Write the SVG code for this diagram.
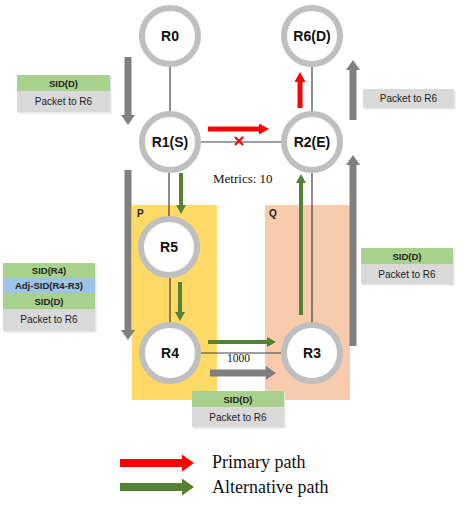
<svg xmlns="http://www.w3.org/2000/svg" width="474" height="505" viewBox="0 0 474 505">
<style>
.node circle{fill:#fff;stroke:#bfbfbf;stroke-width:6}
.node text{font-family:"Liberation Sans",Arial,sans-serif;font-weight:bold;font-size:14px;fill:#111;text-anchor:middle}
.link{stroke:#404040;stroke-width:1.2;fill:none}
.ga{stroke:#7f7f7f;stroke-width:7;fill:none}
.gr{stroke:#548235;stroke-width:4;fill:none}
.rd{stroke:#ff0000;stroke-width:5;fill:none}
.bx{font-family:"Liberation Sans",Arial,sans-serif;font-size:10px;fill:#222;text-anchor:middle}
.bb{font-weight:bold;font-size:9.5px}
.g{fill:#a9d18e}.s{fill:#d9d9d9}.b{fill:#9dc3e6}.sh{fill:#e6e6e6}
.serif{font-family:"Liberation Serif","Times New Roman",serif;fill:#111}
.lbl{font-family:"Liberation Sans",Arial,sans-serif;font-weight:bold;font-size:10px;fill:#222}
</style>
<defs>
<marker id="mg" markerUnits="userSpaceOnUse" viewBox="0 0 10 14" markerWidth="10" markerHeight="14" refX="0" refY="7" orient="auto"><path d="M0,0 L10,7 L0,14 z" fill="#7f7f7f"/></marker>
<marker id="mgr" markerUnits="userSpaceOnUse" viewBox="0 0 9 10" markerWidth="9" markerHeight="10" refX="0" refY="5" orient="auto"><path d="M0,0 L9,5 L0,10 z" fill="#548235"/></marker>
<marker id="mr" markerUnits="userSpaceOnUse" viewBox="0 0 10 11" markerWidth="10" markerHeight="11" refX="0" refY="5.5" orient="auto"><path d="M0,0 L10,5.5 L0,11 z" fill="#ff0000"/></marker>
<marker id="mlr" markerUnits="userSpaceOnUse" viewBox="0 0 12 17" markerWidth="12" markerHeight="17" refX="0" refY="8.5" orient="auto"><path d="M0,0 L12,8.5 L0,17 z" fill="#ff0000"/></marker>
<marker id="mlg" markerUnits="userSpaceOnUse" viewBox="0 0 12 17" markerWidth="12" markerHeight="17" refX="0" refY="8.5" orient="auto"><path d="M0,0 L12,8.5 L0,17 z" fill="#548235"/></marker>
</defs>
<rect width="474" height="505" fill="#fff"/>
<g id="areas">
<rect x="132" y="205" width="85" height="195" fill="#ffd966"/>
<text class="lbl" x="137" y="217">P</text>
<rect x="265" y="205" width="85" height="195" fill="#f8cbad"/>
<text class="lbl" x="269" y="217">Q</text>
</g>
<g id="connectors">
<line class="link" x1="170" y1="67" x2="170" y2="112"/>
<line class="link" x1="312" y1="67" x2="312" y2="112"/>
<line class="link" x1="201" y1="142" x2="281" y2="142"/>
<line class="link" x1="169" y1="173" x2="169" y2="217"/>
<line class="link" x1="170" y1="278" x2="170" y2="323"/>
<line class="link" x1="312" y1="173" x2="312" y2="323"/>
<line class="link" x1="201" y1="353" x2="281" y2="353"/>
<line class="ga" x1="128" y1="57" x2="128" y2="115" marker-end="url(#mg)"/>
<line class="ga" x1="128" y1="170" x2="128" y2="330" marker-end="url(#mg)"/>
<line class="ga" x1="353" y1="120" x2="353" y2="70" marker-end="url(#mg)"/>
<line class="ga" x1="353" y1="346" x2="353" y2="165" marker-end="url(#mg)"/>
<line class="ga" x1="210" y1="373" x2="266" y2="373" marker-end="url(#mg)"/>
<line class="gr" x1="181" y1="173" x2="181" y2="205" marker-end="url(#mgr)"/>
<line class="gr" x1="180" y1="282" x2="180" y2="312" marker-end="url(#mgr)"/>
<line class="gr" x1="208" y1="342" x2="267" y2="342" marker-end="url(#mgr)"/>
<line class="gr" x1="301" y1="315" x2="301" y2="183" marker-end="url(#mgr)"/>
<line class="rd" x1="300" y1="108" x2="300" y2="82" marker-end="url(#mr)"/>
<line class="rd" x1="208" y1="129" x2="259" y2="129" marker-end="url(#mr)"/>
<path d="M235,137 L243,145 M243,137 L235,145" stroke="#ff0000" stroke-width="2.2" fill="none"/>
</g>
<g id="R0" class="node"><circle cx="170" cy="36" r="28"/><text x="170" y="41">R0</text></g>
<g id="R6" class="node"><circle cx="312" cy="36" r="28"/><text x="312" y="41">R6(D)</text></g>
<g id="R1" class="node"><circle cx="170" cy="142" r="28"/><text x="170" y="147">R1(S)</text></g>
<g id="R2" class="node"><circle cx="312" cy="142" r="28"/><text x="312" y="147">R2(E)</text></g>
<g id="R5" class="node"><circle cx="169" cy="247" r="28"/><text x="169" y="252">R5</text></g>
<g id="R4" class="node"><circle cx="170" cy="353" r="28"/><text x="170" y="358">R4</text></g>
<g id="R3" class="node"><circle cx="312" cy="353" r="28"/><text x="312" y="358">R3</text></g>
<g id="box-left-top">
<rect class="sh" x="18.5" y="76.5" width="93" height="37"/>
<rect class="g" x="17" y="75" width="93" height="16"/>
<rect class="s" x="17" y="91" width="93" height="21"/>
<text class="bx bb" x="63.5" y="86.5">SID(D)</text>
<text class="bx" x="63.5" y="105">Packet to R6</text>
</g>
<g id="box-right-top">
<rect class="sh" x="364.5" y="90.5" width="91" height="19"/>
<rect class="s" x="363" y="89" width="91" height="19"/>
<text class="bx" x="408.5" y="102">Packet to R6</text>
</g>
<g id="box-left-mid">
<rect class="sh" x="4.5" y="264.5" width="92" height="68"/>
<rect class="g" x="3" y="263" width="92" height="15"/>
<rect class="b" x="3" y="278" width="92" height="15"/>
<rect class="g" x="3" y="293" width="92" height="16"/>
<rect class="s" x="3" y="309" width="92" height="22"/>
<text class="bx bb" x="49" y="274">SID(R4)</text>
<text class="bx bb" x="49" y="289">Adj-SID(R4-R3)</text>
<text class="bx bb" x="49" y="304.5">SID(D)</text>
<text class="bx" x="49" y="323">Packet to R6</text>
</g>
<g id="box-right-mid">
<rect class="sh" x="362.5" y="249.5" width="92" height="36"/>
<rect class="g" x="361" y="248" width="92" height="16"/>
<rect class="s" x="361" y="264" width="92" height="20"/>
<text class="bx bb" x="407" y="259.5">SID(D)</text>
<text class="bx" x="407" y="277.5">Packet to R6</text>
</g>
<g id="box-bottom">
<rect class="sh" x="193.5" y="392.5" width="92" height="36"/>
<rect class="g" x="192" y="391" width="92" height="16"/>
<rect class="s" x="192" y="407" width="92" height="20"/>
<text class="bx bb" x="238" y="402.5">SID(D)</text>
<text class="bx" x="238" y="420.5">Packet to R6</text>
</g>
<text class="serif" x="213" y="183" font-size="13">Metrics: 10</text>
<text class="serif" x="227" y="362" font-size="11.5">1000</text>
<g id="legend">
<line x1="120" y1="463" x2="182" y2="463" stroke="#ff0000" stroke-width="8" marker-end="url(#mlr)"/>
<line x1="120" y1="487" x2="182" y2="487" stroke="#548235" stroke-width="8" marker-end="url(#mlg)"/>
<text class="serif" x="212" y="468" font-size="18">Primary path</text>
<text class="serif" x="212" y="493" font-size="18">Alternative path</text>
</g>
</svg>
